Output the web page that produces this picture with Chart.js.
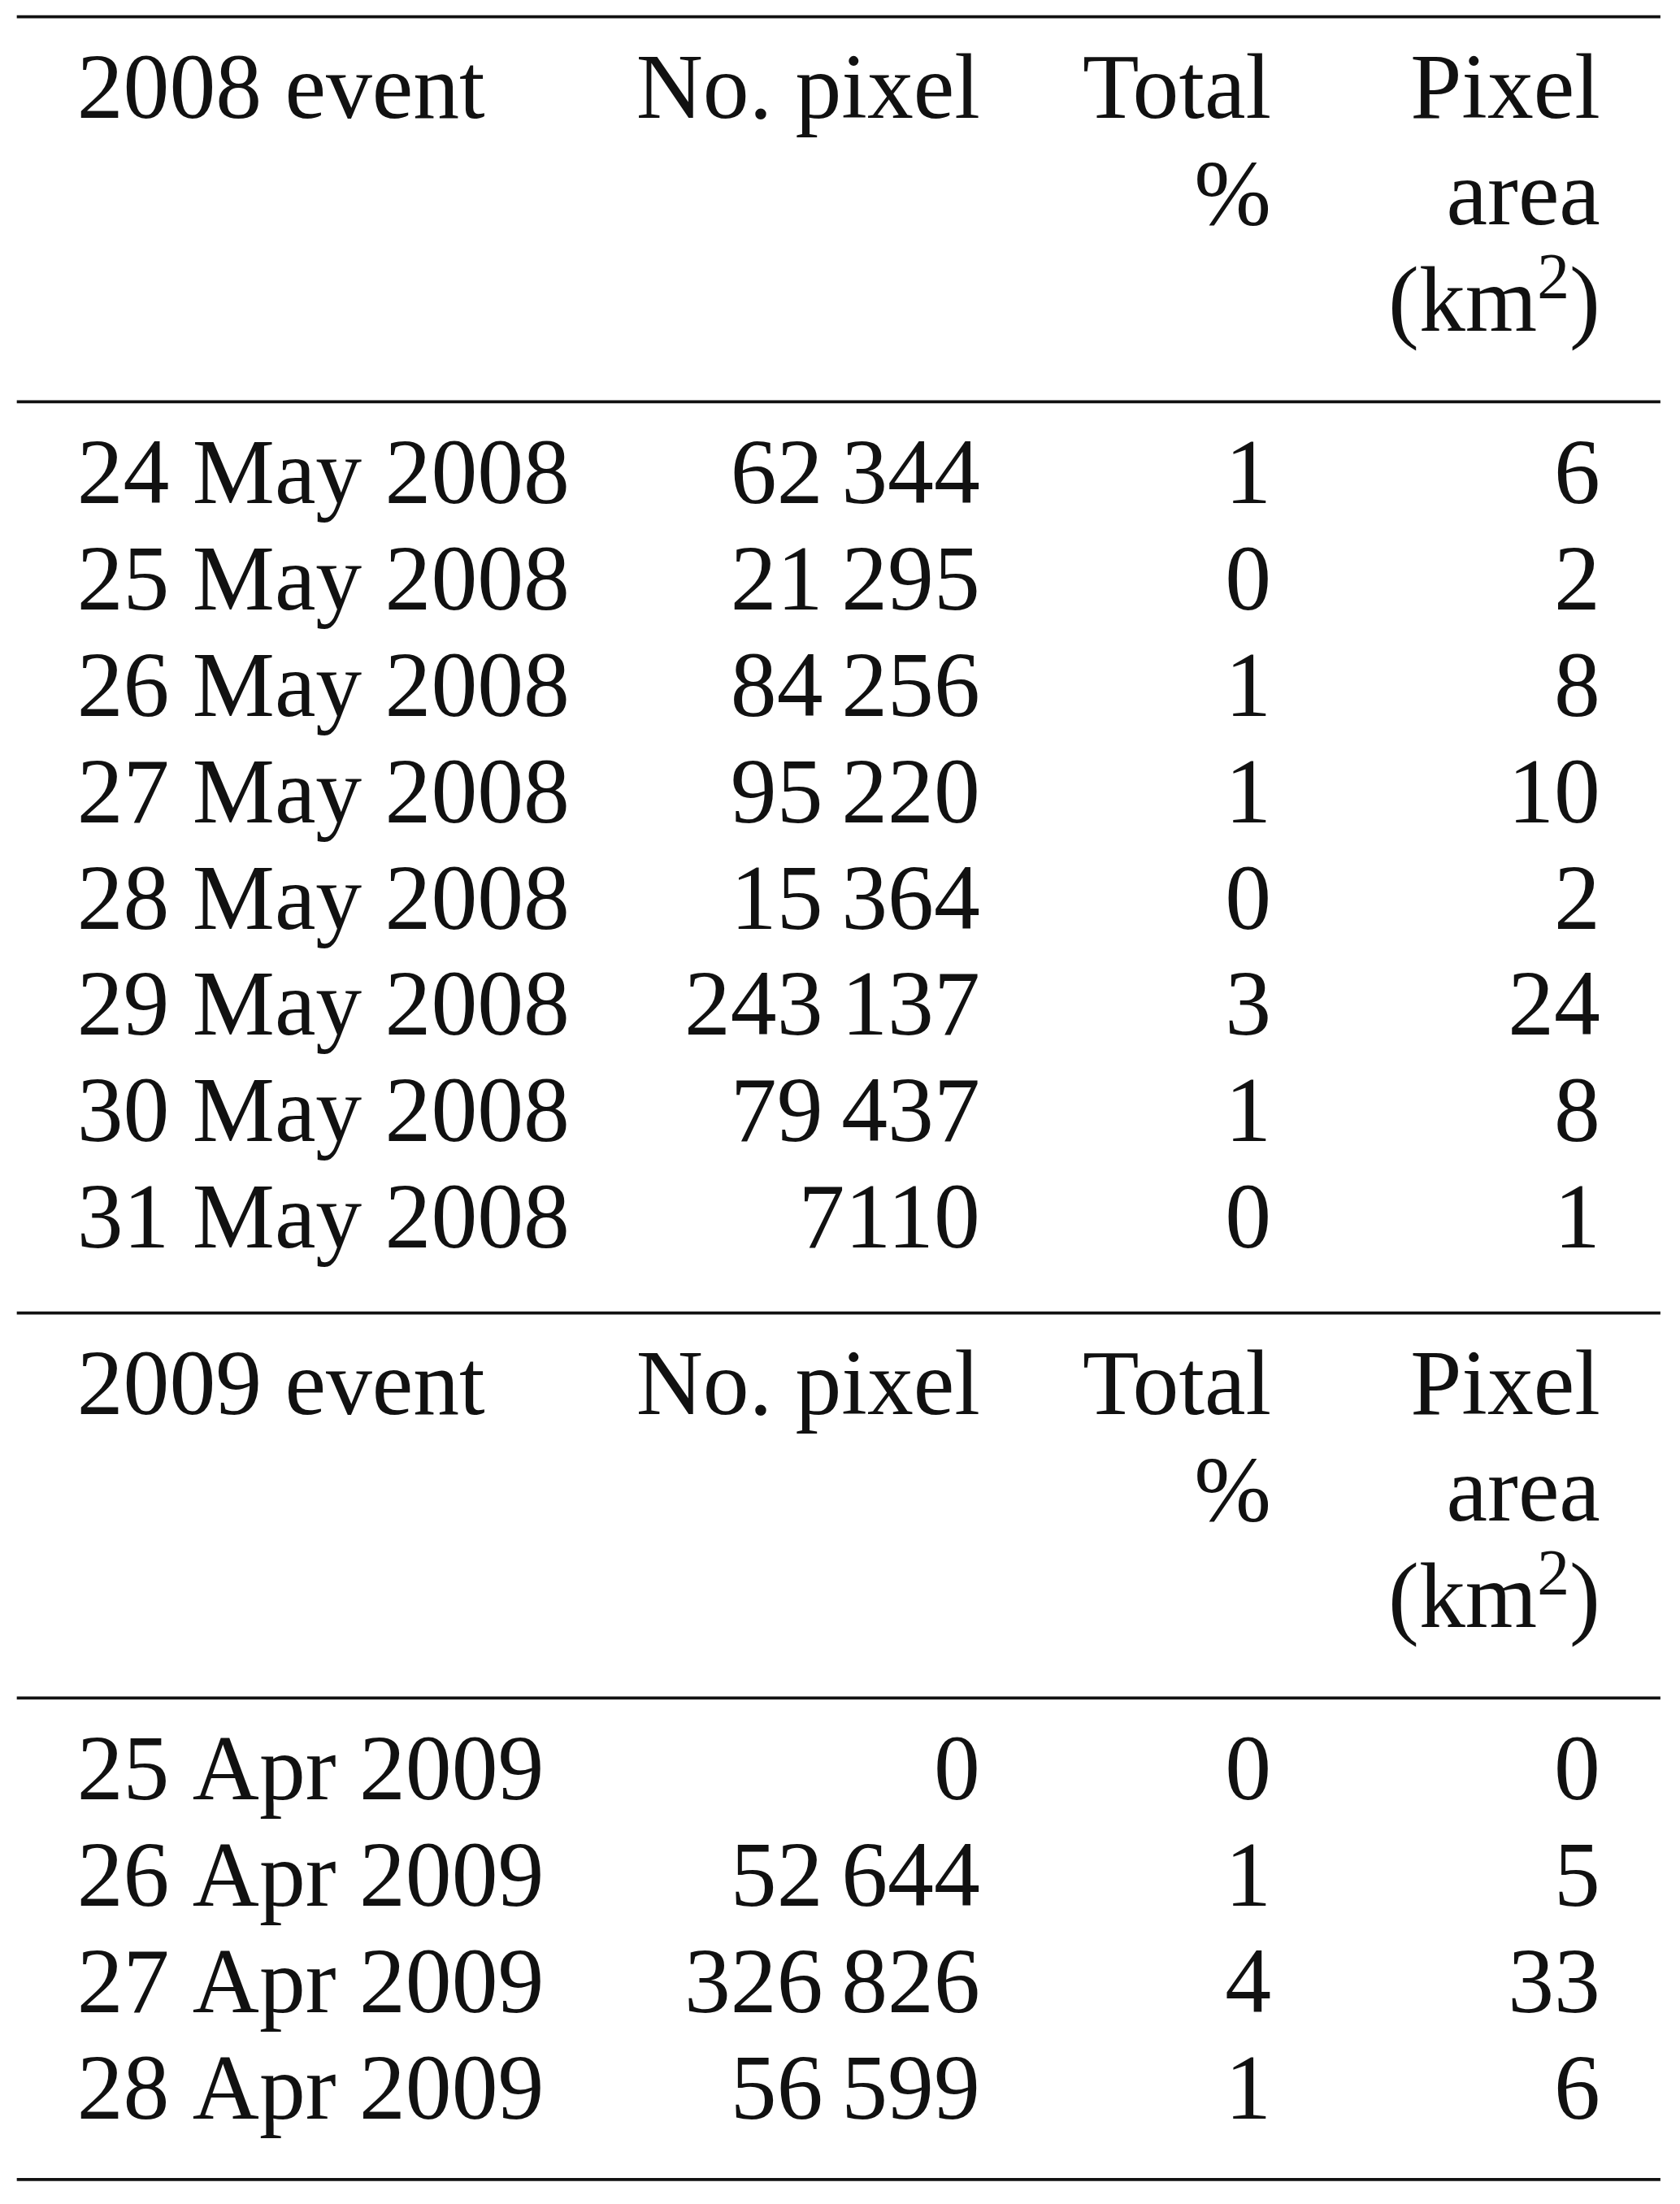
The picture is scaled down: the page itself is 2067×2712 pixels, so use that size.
<!DOCTYPE html>
<html>
<head>
<meta charset="utf-8">
<script src="https://cdn.jsdelivr.net/npm/chart.js@4/dist/chart.umd.min.js"></script>
<style>
  html, body { margin: 0; padding: 0; background: #fff; }
  canvas { display: block; }
</style>
</head>
<body>
<canvas id="tbl" width="2067" height="2712"></canvas>
<script>
// table data
const headers = ['event', 'No. pixel', ['Total', '%'], ['Pixel', 'area', '(km²)']];
const dates2008 = ['24 May 2008', '25 May 2008', '26 May 2008', '27 May 2008',
                   '28 May 2008', '29 May 2008', '30 May 2008', '31 May 2008'];
const pixels2008 = [62344, 21295, 84256, 95220, 15364, 243137, 79437, 7110];
const total2008 = [1, 0, 1, 1, 0, 3, 1, 0];
const area2008 = [6, 2, 8, 10, 2, 24, 8, 1];
const dates2009 = ['25 Apr 2009', '26 Apr 2009', '27 Apr 2009', '28 Apr 2009'];
const pixels2009 = [0, 52644, 326826, 56599];
const total2009 = [0, 1, 4, 1];
const area2009 = [0, 5, 33, 6];

const S = 2067 / 1200;
const FONT = 'Liberation Serif, "DejaVu Serif", serif';
const fontPx = 66 * S;

// thin space grouping for numbers >= 10000
const fmt = (n) => n >= 10000 ? String(n).replace(/\B(?=(\d{3})+(?!\d))/g, '\u2009') : String(n);

const tablePlugin = {
    id: 'tablePlugin',
    afterDraw(chart) {
        const ctx = chart.ctx;
        ctx.save();
        ctx.fillStyle = '#fff';
        ctx.fillRect(0, 0, chart.width, chart.height);
        ctx.fillStyle = '#111';
        ctx.strokeStyle = '#111';
        ctx.lineWidth = 2.2 * S;
        ctx.textBaseline = 'middle';
        ctx.font = fontPx + 'px ' + FONT;

        const rule = (y) => {
            ctx.beginPath();
            ctx.moveTo(12 * S, y * S);
            ctx.lineTo(1186 * S, y * S);
            ctx.stroke();
        };
        const colX = [55, 700, 908, 1143];
        const txt = (s, col, y) => {
            ctx.textAlign = col === 0 ? 'left' : 'right';
            ctx.fillText(s, colX[col] * S, y * S);
        };
        const kmText = (y) => {
            // "(km" + superscript 2 + ")" right-aligned
            ctx.textAlign = 'left';
            const big = fontPx + 'px ' + FONT;
            const small = (fontPx * 0.7) + 'px ' + FONT;
            ctx.font = big;
            const w1 = ctx.measureText('(km').width;
            const w3 = ctx.measureText(')').width;
            ctx.font = small;
            const w2 = ctx.measureText('2').width;
            let x = colX[3] * S - (w1 + w2 + w3);
            ctx.font = big;
            ctx.fillText('(km', x, y * S);
            ctx.font = small;
            ctx.fillText('2', x + w1, (y - 18) * S);
            ctx.font = big;
            ctx.fillText(')', x + w1 + w2, y * S);
        };
        const header = (year, y0) => {
            txt(year + ' ' + headers[0], 0, y0);
            txt(headers[1], 1, y0);
            txt(headers[2][0], 2, y0);
            txt(headers[2][1], 2, y0 + 76);
            txt(headers[3][0], 3, y0);
            txt(headers[3][1], 3, y0 + 76);
            kmText(y0 + 152);
        };
        const rows = (dates, px, tot, area, y0) => {
            dates.forEach((d, i) => {
                const y = y0 + i * 76;
                txt(d, 0, y);
                txt(fmt(px[i]), 1, y);
                txt(String(tot[i]), 2, y);
                txt(String(area[i]), 3, y);
            });
        };

        rule(12);
        header('2008', 67);
        rule(287);
        rows(dates2008, pixels2008, total2008, area2008, 342);
        rule(938);
        header('2009', 993);
        rule(1213);
        rows(dates2009, pixels2009, total2009, area2009, 1268);
        rule(1557);
        ctx.restore();
    }
};

new Chart(document.getElementById('tbl'), {
    type: 'bar',
    data: { labels: dates2008, datasets: [{ data: pixels2008, backgroundColor: 'rgba(0,0,0,0)' }] },
    options: {
        responsive: false,
        animation: false,
        devicePixelRatio: 1,
        plugins: { legend: { display: false }, tooltip: { enabled: false } },
        scales: { x: { display: false }, y: { display: false } }
    },
    plugins: [tablePlugin]
});
</script>
</body>
</html>
